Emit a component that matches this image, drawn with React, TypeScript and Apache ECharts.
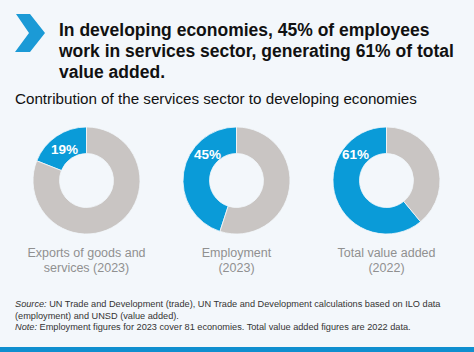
import React, { useEffect, useRef } from "react";
import * as echarts from "echarts";

const titleLines = [
  "In developing economies, 45% of employees",
  "work in services sector, generating 61% of total",
  "value added.",
];
const subtitle = "Contribution of the services sector to developing economies";
const categories = ["Exports of goods and\nservices (2023)", "Employment\n(2023)", "Total value added\n(2022)"];
const servicesShare = [19, 45, 61];
const otherShare = [81, 55, 39];
const sourceText = " UN Trade and Development (trade), UN Trade and Development calculations based on ILO data";
const sourceText2 = "(employment) and UNSD (value added).";
const noteText = " Employment figures for 2023 cover 81 economies. Total value added figures are 2022 data.";

const BLUE = "#0a9bd8";
const GRAY = "#c9c5c3";
const FONT = "'Liberation Sans', Arial, sans-serif";

export default function App() {
  const ref = useRef<HTMLDivElement>(null);
  useEffect(() => {
    document.body.style.margin = "0";
    const chart = echarts.init(ref.current!, null, { renderer: "svg" });
    const centers = [86.5, 236.5, 386.5];
    const cy = 180.5;
    const labelOffsets = [
      [-22, -31],
      [-29, -26],
      [-31, -26],
    ];
    const series: any[] = servicesShare.map((v, i) => ({
      type: "pie",
      center: [centers[i], cy],
      radius: [27, 53.5],
      startAngle: 90,
      clockwise: false,
      silent: true,
      z: 2,
      label: { show: false },
      labelLine: { show: false },
      itemStyle: { borderColor: "#f3f7fb", borderWidth: 0.8 },
      data: [
        { value: v, name: "Services", itemStyle: { color: BLUE } },
        { value: otherShare[i], name: "Other", itemStyle: { color: GRAY } },
      ],
    }));
    const graphics: any[] = [
      { type: "rect", shape: { x: 0, y: 0, width: 474, height: 352 }, style: { fill: "#f3f7fb" }, z: -10 },
      { type: "rect", shape: { x: 0, y: 347, width: 474, height: 5 }, style: { fill: "#0f8fcf" } },
      {
        type: "polygon",
        shape: { points: [[16, 14], [30, 14], [45, 33], [30, 52], [15, 52], [29, 33]] },
        style: { fill: "#1b9ad6" },
      },
      {
        type: "text",
        x: 59,
        y: 19.5,
        style: {
          text: titleLines.join("\n"),
          font: `bold 17.5px ${FONT}`,
          lineHeight: 21,
          fill: "#111",
        },
      },
      {
        type: "text",
        x: 15,
        y: 91,
        style: { text: subtitle, font: `15.2px ${FONT}`, fill: "#111" },
      },
      {
        type: "text",
        x: 15,
        y: 298.5,
        style: {
          text: `{i|Source:}${sourceText}\n${sourceText2}\n{i|Note:}${noteText}`,
          font: `9.2px ${FONT}`,
          fill: "#333",
          lineHeight: 11.5,
          rich: { i: { fontStyle: "italic", fontSize: 9.2, fontFamily: FONT, fill: "#333" } },
        },
      },
    ];
    servicesShare.forEach((v, i) => {
      graphics.push({
        type: "text",
        z: 100,
        zlevel: 0,
        x: centers[i] + labelOffsets[i][0],
        y: cy + labelOffsets[i][1],
        style: {
          text: `${v}%`,
          font: `bold 13.5px ${FONT}`,
          fill: "#fff",
          align: "center",
          verticalAlign: "middle",
        },
      });
      graphics.push({
        type: "text",
        x: centers[i],
        y: 245,
        style: {
          text: categories[i],
          font: `12.5px ${FONT}`,
          fill: "#909090",
          align: "center",
          lineHeight: 15,
        },
      });
    });
    chart.setOption({
      animation: false,
      backgroundColor: "#f3f7fb",
      series,
      graphic: graphics,
    });
    return () => chart.dispose();
  }, []);
  return <div ref={ref} style={{ width: 474, height: 352 }} />;
}
